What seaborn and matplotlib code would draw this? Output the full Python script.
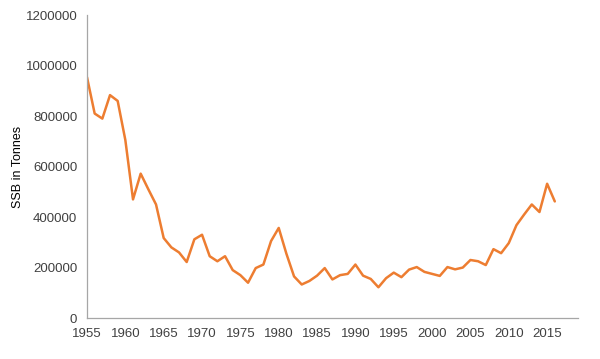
import numpy as np
import pandas as pd
import matplotlib
matplotlib.use('Agg')
import matplotlib.pyplot as plt
import seaborn as sns

# spawning stock biomass by year
years = list(range(1955, 2017))
ssb = [954000, 810000, 790000, 883000, 860000, 705000, 470000, 572000, 510000, 450000,
       317000, 280000, 260000, 222000, 312000, 330000, 245000, 225000, 245000, 190000,
       170000, 140000, 198000, 212000, 305000, 357000, 255000, 165000, 133000, 147000,
       168000, 198000, 153000, 170000, 175000, 212000, 168000, 155000, 122000, 158000,
       180000, 162000, 192000, 202000, 183000, 175000, 167000, 202000, 193000, 200000,
       230000, 225000, 210000, 273000, 257000, 297000, 368000, 410000, 450000, 420000,
       532000, 462000]
y_ticks = [0, 200000, 400000, 600000, 800000, 1000000, 1200000]
x_ticks = list(range(1955, 2020, 5))

df = pd.DataFrame({'year': years, 'ssb': ssb})

sns.set_style('white')
plt.rcParams['font.family'] = ['Liberation Sans', 'DejaVu Sans']

fig = plt.figure(figsize=(6, 3.59), dpi=100)
ax = fig.add_axes([0.145, 0.114, 0.818, 0.844])
sns.lineplot(x='year', y='ssb', data=df, color='#ED7D31', linewidth=1.8, ax=ax)

ax.set_xlim(1955, 2019)
ax.set_ylim(0, 1200000)
ax.set_yticks(y_ticks)
ax.set_yticklabels([str(v) for v in y_ticks])
ax.set_xticks(x_ticks)
ax.set_xticklabels([str(v) for v in x_ticks])
ax.set_xticks(range(1955, 2020), minor=True)

for side in ['top', 'right']:
    ax.spines[side].set_visible(False)
for side in ['left', 'bottom']:
    ax.spines[side].set_color('#A6A6A6')
    ax.spines[side].set_linewidth(0.9)

ax.tick_params(axis='both', which='both', colors='#A6A6A6', labelcolor='#404040',
               labelsize=9.5, direction='out')
ax.tick_params(axis='y', length=4, pad=3)
ax.tick_params(axis='x', which='major', length=4, pad=3)
ax.tick_params(axis='x', which='minor', length=4)
ax.set_xlabel('')
ax.set_ylabel('SSB in Tonnes', fontsize=9, color='#000000')
ax.yaxis.set_label_coords(-0.128, 0.5)

plt.savefig('out.png', dpi=100)
